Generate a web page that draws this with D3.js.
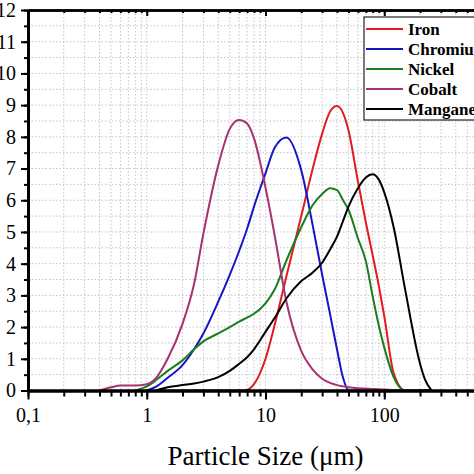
<!DOCTYPE html>
<html>
<head>
<meta charset="utf-8">
<script src="https://cdn.jsdelivr.net/npm/d3@7"></script>
<style>
  body { margin: 0; background: #fff; }
</style>
</head>
<body>
<div id="chart"></div>
<script>
// particle size bins (um)
const sizes = [0.4, 0.5, 0.6, 0.8, 1, 1.2, 1.5, 2, 2.5, 3, 4, 5, 6, 7, 8, 10, 12, 15, 20, 25,
               30, 35, 40, 45, 50, 60, 70, 80, 90, 100, 120, 150, 200, 220, 250];

// volume density (%) per bin
const iron      = [null, null, null, null, null, 0, 0, 0, 0, 0, 0, 0, 0, 0.02, 0.2, 1.0, 2.1, 3.6, 5.5, 7.0,
                   8.1, 8.8, 8.97, 8.75, 8.2, 6.6, 5.3, 4.25, 3.3, 2.35, 0.55, 0, 0, 0, 0];
const chromium  = [null, null, null, null, 0, 0.12, 0.4, 0.8, 1.3, 1.8, 2.8, 3.65, 4.4, 5.1, 5.8, 6.85, 7.67, 7.98, 6.95, 5.2,
                   3.65, 2.4, 1.3, 0.4, 0, 0, 0, 0, 0, 0, 0, 0, 0, 0, 0];
const nickel    = [null, null, null, 0, 0.13, 0.33, 0.62, 0.95, 1.3, 1.55, 1.8, 2.0, 2.17, 2.3, 2.42, 2.75, 3.2, 4.1, 5.15, 5.85,
                   6.2, 6.38, 6.32, 6.0, 5.7, 4.8, 4.08, 2.96, 2.05, 1.36, 0.42, 0, 0, 0, 0];
const cobalt    = [0, 0.1, 0.16, 0.16, 0.2, 0.4, 1.0, 2.1, 3.35, 4.95, 7.1, 8.25, 8.53, 8.42, 7.95, 6.4, 4.85, 2.8, 1.25, 0.66,
                   0.37, 0.24, 0.17, 0.13, 0.1, 0.07, 0.06, 0.05, 0.04, 0.03, 0.01, 0, 0, 0, 0];
const manganese = [null, null, null, null, null, 0, 0.1, 0.17, 0.22, 0.28, 0.42, 0.62, 0.84, 1.05, 1.3, 1.85, 2.3, 2.9, 3.45, 3.72,
                   4.03, 4.45, 4.85, 5.35, 5.8, 6.38, 6.72, 6.82, 6.65, 6.25, 5.15, 3.18, 0.85, 0.35, 0];

const seriesNames  = ["Iron", "Chromium", "Nickel", "Cobalt", "Manganese"];
const seriesValues = [iron, chromium, nickel, cobalt, manganese];
const seriesColors = ["#e11b1f", "#1616c4", "#1a7d1e", "#a6326f", "#000000"];

const xMajorTicks  = [0.1, 1, 10, 100, 1000];
const xMajorLabels = ["0,1", "1", "10", "100", ""];   // 1000 falls outside the cropped view
const yMajorTicks  = [0, 1, 2, 3, 4, 5, 6, 7, 8, 9, 10, 11, 12];
const xLabel = "Particle Size (\u03bcm)";

const W = 474, H = 474;
const plotLeft = 28, plotRight = 503, plotTop = 10, plotBottom = 390.5;
const serif = "'Liberation Serif', 'Times New Roman', serif";

const svg = d3.select("#chart").append("svg")
    .attr("width", W)
    .attr("height", H)
    .style("display", "block");

const x = d3.scaleLog().domain([0.1, 1000]).range([plotLeft, plotRight]);
const y = d3.scaleLinear().domain([0, 12]).range([plotBottom, plotTop]);

const xMinor = x.ticks();               // 1..9 x each decade
const yMinor = d3.range(0, 12.01, 0.5);

// dotted grid
const grid = svg.append("g");
grid.selectAll("line.gx").data(xMinor).enter().append("line")
    .attr("x1", d => x(d)).attr("x2", d => x(d))
    .attr("y1", plotTop).attr("y2", plotBottom)
    .style("stroke", "#c4c4c4").style("stroke-width", 1).style("stroke-dasharray", "1.5,2");
grid.selectAll("line.gy").data(yMinor).enter().append("line")
    .attr("x1", plotLeft).attr("x2", plotRight)
    .attr("y1", d => y(d)).attr("y2", d => y(d))
    .style("stroke", "#c4c4c4").style("stroke-width", 1).style("stroke-dasharray", "1.5,2");

// curves
const line = d3.line()
    .defined(d => d.v != null)
    .x(d => x(d.s))
    .y(d => y(d.v))
    .curve(d3.curveMonotoneX);

seriesValues.forEach((vals, i) => {
    const pts = sizes.map((s, j) => ({ s: s, v: vals[j] }));
    svg.append("path")
        .datum(pts)
        .attr("d", line)
        .style("fill", "none")
        .style("stroke", seriesColors[i])
        .style("stroke-width", 2)
        .style("stroke-linejoin", "round");
});

// axes
function styleAxis(g, w) {
    g.select(".domain").style("stroke", "#000").style("stroke-width", w);
    g.selectAll(".tick line").style("stroke", "#000").style("stroke-width", 2);
    g.selectAll("text").style("font-family", serif).style("font-size", "20px").style("fill", "#000");
}

svg.append("g")
    .attr("transform", "translate(0," + plotBottom + ")")
    .call(d3.axisBottom(x).tickValues(xMinor).tickSize(6).tickSizeOuter(0).tickFormat(""))
    .call(g => styleAxis(g, 3));
svg.append("g")
    .attr("transform", "translate(0," + plotBottom + ")")
    .call(d3.axisBottom(x).tickValues(xMajorTicks).tickSize(9).tickSizeOuter(0).tickPadding(8)
        .tickFormat((d, i) => xMajorLabels[i]))
    .call(g => styleAxis(g, 3));

svg.append("g")
    .attr("transform", "translate(0," + plotTop + ")")
    .call(d3.axisBottom(x).tickValues(xMinor).tickSize(3).tickSizeOuter(0).tickFormat(""))
    .call(g => styleAxis(g, 2.5));
svg.append("g")
    .attr("transform", "translate(0," + plotTop + ")")
    .call(d3.axisBottom(x).tickValues(xMajorTicks).tickSize(6).tickSizeOuter(0).tickFormat(""))
    .call(g => styleAxis(g, 2.5));

svg.append("g")
    .attr("transform", "translate(" + plotLeft + ",0)")
    .call(d3.axisLeft(y).tickValues(yMinor).tickSize(4).tickSizeOuter(0).tickFormat(""))
    .call(g => styleAxis(g, 3));
svg.append("g")
    .attr("transform", "translate(" + plotLeft + ",0)")
    .call(d3.axisLeft(y).tickValues(yMajorTicks).tickSize(7).tickSizeOuter(0).tickPadding(5))
    .call(g => styleAxis(g, 3));

svg.append("text")
    .attr("x", (plotLeft + plotRight) / 2)
    .attr("y", 465)
    .attr("text-anchor", "middle")
    .style("font-family", serif)
    .style("font-size", "27px")
    .text(xLabel);

// legend
const legend = svg.append("g").attr("transform", "translate(364,17)");
legend.append("rect")
    .attr("x", 0).attr("y", 0)
    .attr("width", 140).attr("height", 103)
    .style("fill", "#fff").style("stroke", "#222").style("stroke-width", 1.2);

seriesNames.forEach((name, i) => {
    const ly = 12 + i * 20;
    legend.append("line")
        .attr("x1", 2).attr("x2", 39)
        .attr("y1", ly).attr("y2", ly)
        .style("stroke", seriesColors[i]).style("stroke-width", 2);
    legend.append("text")
        .attr("x", 44).attr("y", ly)
        .attr("dy", "0.35em")
        .style("font-family", serif)
        .style("font-size", "17px")
        .style("font-weight", "bold")
        .text(name);
});
</script>
</body>
</html>
